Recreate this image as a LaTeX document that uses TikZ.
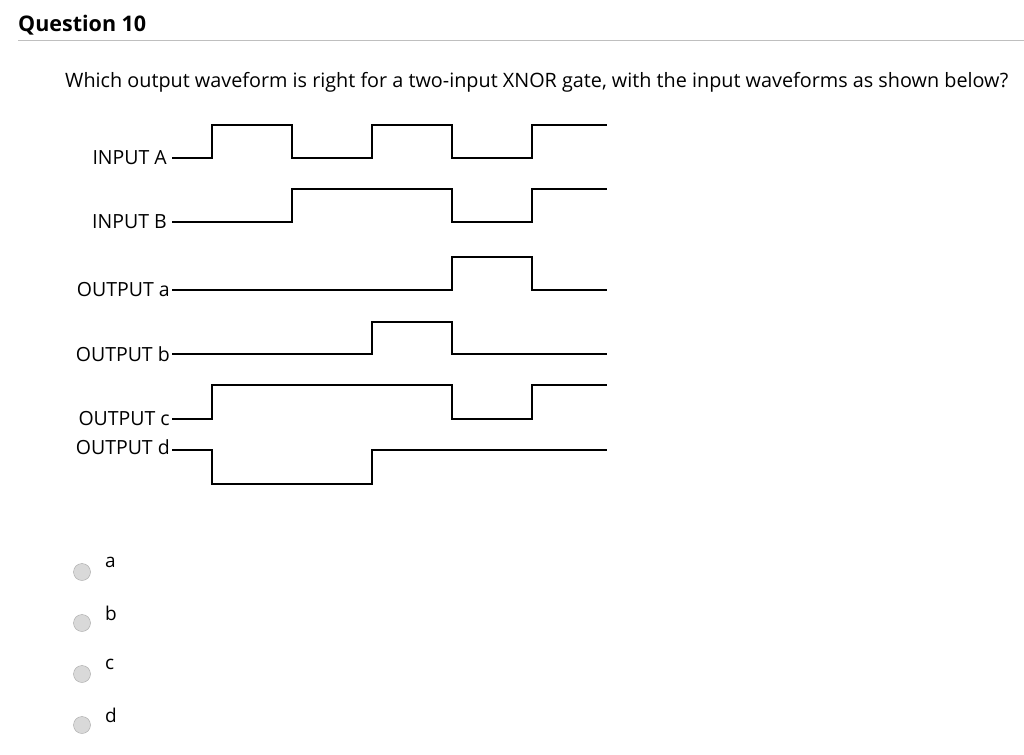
\documentclass[tikz,border=0pt]{standalone}
\usepackage{fontspec}
\setmainfont{Open Sans}
\begin{document}
\begin{tikzpicture}[x=1pt,y=-1pt,
  wave/.style={draw,line width=1.4pt},
  lbl/.style={anchor=east,inner sep=0pt,font=\fontsize{19.5}{22}\selectfont},
  radio/.style={circle,draw=gray!70,fill=gray!30,minimum size=17pt,inner sep=0pt},
  opt/.style={anchor=west,inner sep=0pt,font=\fontsize{19}{22}\selectfont}]
  \useasboundingbox (0,0) rectangle (1024,754);
  %heading
  \node[anchor=west,inner sep=0pt,font=\bfseries\fontsize{21.5}{24}\selectfont] (title) at (18,25) {Question 10};
  \draw[gray!50] (18,40) -- (1024,40);
  \node[anchor=west,inner sep=0pt,font=\fontsize{19.8}{23}\selectfont] (question) at (65,82)
    {Which output waveform is right for a two-input XNOR gate, with the input waveforms as shown below?};
  %waveforms
  \node[lbl] (inA) at (167,158) {INPUT A};
  \draw[wave] (172,158) -| (212,125) -| (292,158) -| (372,125) -| (452,158) -| (532,125) -- (607,125);
  \node[lbl] (inB) at (167,222) {INPUT B};
  \draw[wave] (172,222) -| (292,189) -| (452,222) -| (532,189) -- (607,189);
  \node[lbl] (outa) at (170,290) {OUTPUT a};
  \draw[wave] (172,290) -| (452,257) -| (532,290) -- (607,290);
  \node[lbl] (outb) at (170,354) {OUTPUT b};
  \draw[wave] (172,354) -| (372,322) -| (452,354) -- (607,354);
  \node[lbl] (outc) at (170,419) {OUTPUT c};
  \draw[wave] (172,419) -| (212,385) -| (452,419) -| (532,385) -- (607,385);
  \node[lbl] (outd) at (170,447) {OUTPUT d};
  \draw[wave] (172,450) -| (212,484) -| (372,450) -- (607,450);
  %choices
  \foreach \c [count=\i from 0] in {a,b,c,d} {
    \node[radio] (r\c) at (82,572+51*\i) {};
    \node[opt] (t\c) at (105,562+51*\i) {\c};
  }
\end{tikzpicture}
\end{document}
